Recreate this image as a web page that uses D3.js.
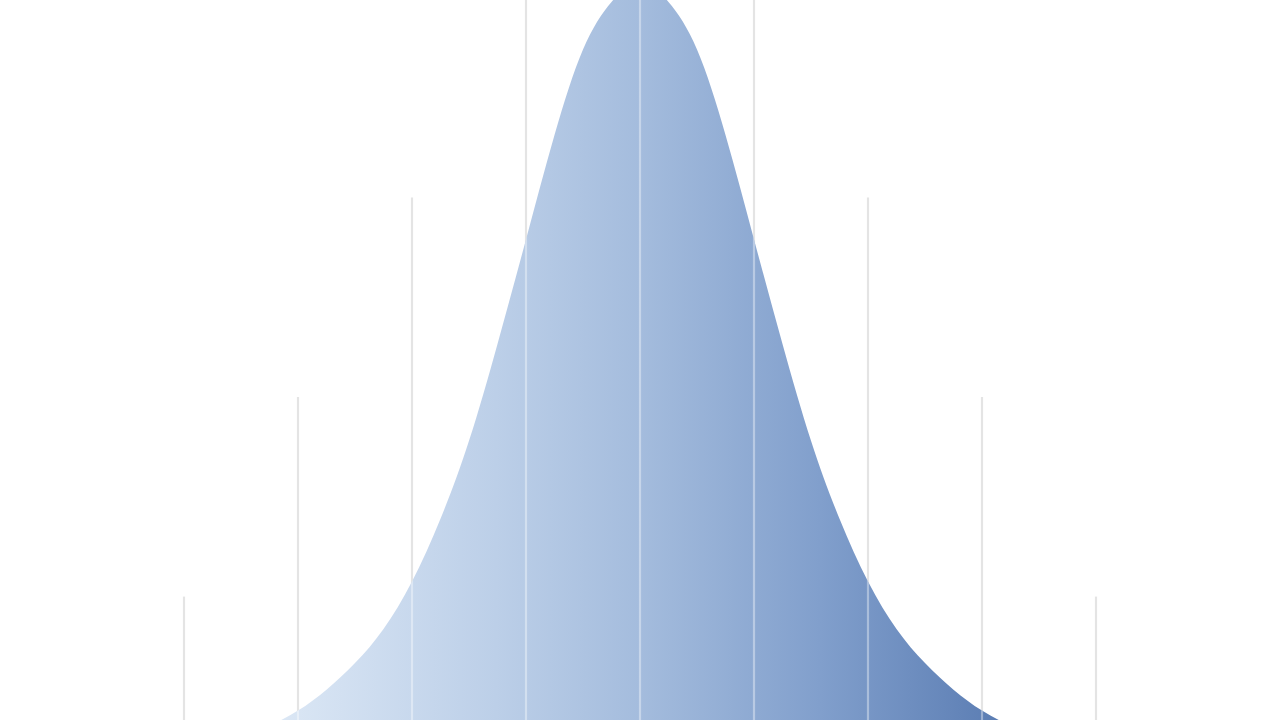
<!DOCTYPE html>
<html>
<head>
<meta charset="utf-8">
<style>
  html, body { margin: 0; padding: 0; background: #fff; overflow: hidden; }
  svg { display: block; }
</style>
<script src="https://cdn.jsdelivr.net/npm/d3@7"></script>
</head>
<body>
<svg id="chart" width="1280" height="720"></svg>
<script>
// standard deviations marked by the guide lines
const sigmas = [-4, -3, -2, -1, 0, 1, 2, 3, 4];
// how high each guide line reaches (same units as the curve)
const guideTops = [0.086, 0.191, 0.296, 0.42, 0.42, 0.42, 0.296, 0.191, 0.086];

// curve, in sigma units
const curveZ = [-5.5, -5, -4.5, -4, -3.5, -3.25, -3, -2.75, -2.5, -2.25, -2, -1.75, -1.5, -1.25, -1, -0.75, -0.5, -0.25,
                0, 0.25, 0.5, 0.75, 1, 1.25, 1.5, 1.75, 2, 2.25, 2.5, 2.75, 3, 3.25, 3.5, 4, 4.5, 5, 5.5];
const curveV = [0.002, 0.003, 0.005, 0.008, 0.013, 0.018, 0.026, 0.037, 0.051, 0.069, 0.094, 0.127, 0.168, 0.219, 0.274, 0.329, 0.374, 0.399,
                0.409, 0.399, 0.374, 0.329, 0.274, 0.219, 0.168, 0.127, 0.094, 0.069, 0.051, 0.037, 0.026, 0.018, 0.013, 0.008, 0.005, 0.003, 0.002];

(function () {
    let svg = d3.select('#chart'),
        height = +svg.attr('height');

    let x = d3.scaleLinear().domain([-4, 4]).range([184, 1096]),
        y = d3.scaleLinear().domain([0, 0.4]).range([760, 0]);

    let points = curveZ.map((z, i) => ({z: z, v: curveV[i]}));

    let defs = svg.append('defs');
    let grad = defs.append('linearGradient')
        .attr('id', 'fillGrad')
        .attr('gradientUnits', 'userSpaceOnUse')
        .attr('x1', x(-3.16)).attr('y1', 0)
        .attr('x2', x(3.16)).attr('y2', 0);
    [
        [0, '#dbe7f5'],
        [0.3, '#bccfe8'],
        [0.5, '#a4bcdd'],
        [0.75, '#819fcc'],
        [1, '#5b7db3']
    ].forEach(s => grad.append('stop').attr('offset', s[0]).attr('stop-color', s[1]));

    let area = d3.area()
        .curve(d3.curveNatural)
        .x(d => x(d.z))
        .y0(y(0))
        .y1(d => y(d.v));

    defs.append('clipPath').attr('id', 'curveClip')
        .append('path').attr('d', area(points));

    let guides = sigmas.map((s, i) => ({s: s, top: guideTops[i]}));

    // gray guides behind the curve
    svg.append('g')
        .selectAll('line')
        .data(guides)
        .enter().append('line')
        .attr('x1', d => x(d.s)).attr('x2', d => x(d.s))
        .attr('y1', d => y(d.top)).attr('y2', height)
        .style('stroke', '#e4e4e4')
        .style('stroke-width', '2.2px');

    svg.append('path')
        .attr('d', area(points))
        .style('fill', 'url(#fillGrad)');

    // guides seen through the curve are lighter
    svg.append('g')
        .attr('clip-path', 'url(#curveClip)')
        .selectAll('line')
        .data(guides)
        .enter().append('line')
        .attr('x1', d => x(d.s)).attr('x2', d => x(d.s))
        .attr('y1', d => y(d.top)).attr('y2', height)
        .style('stroke', '#ffffff')
        .style('stroke-opacity', 0.38)
        .style('stroke-width', '2.2px');
}());
</script>
</body>
</html>
